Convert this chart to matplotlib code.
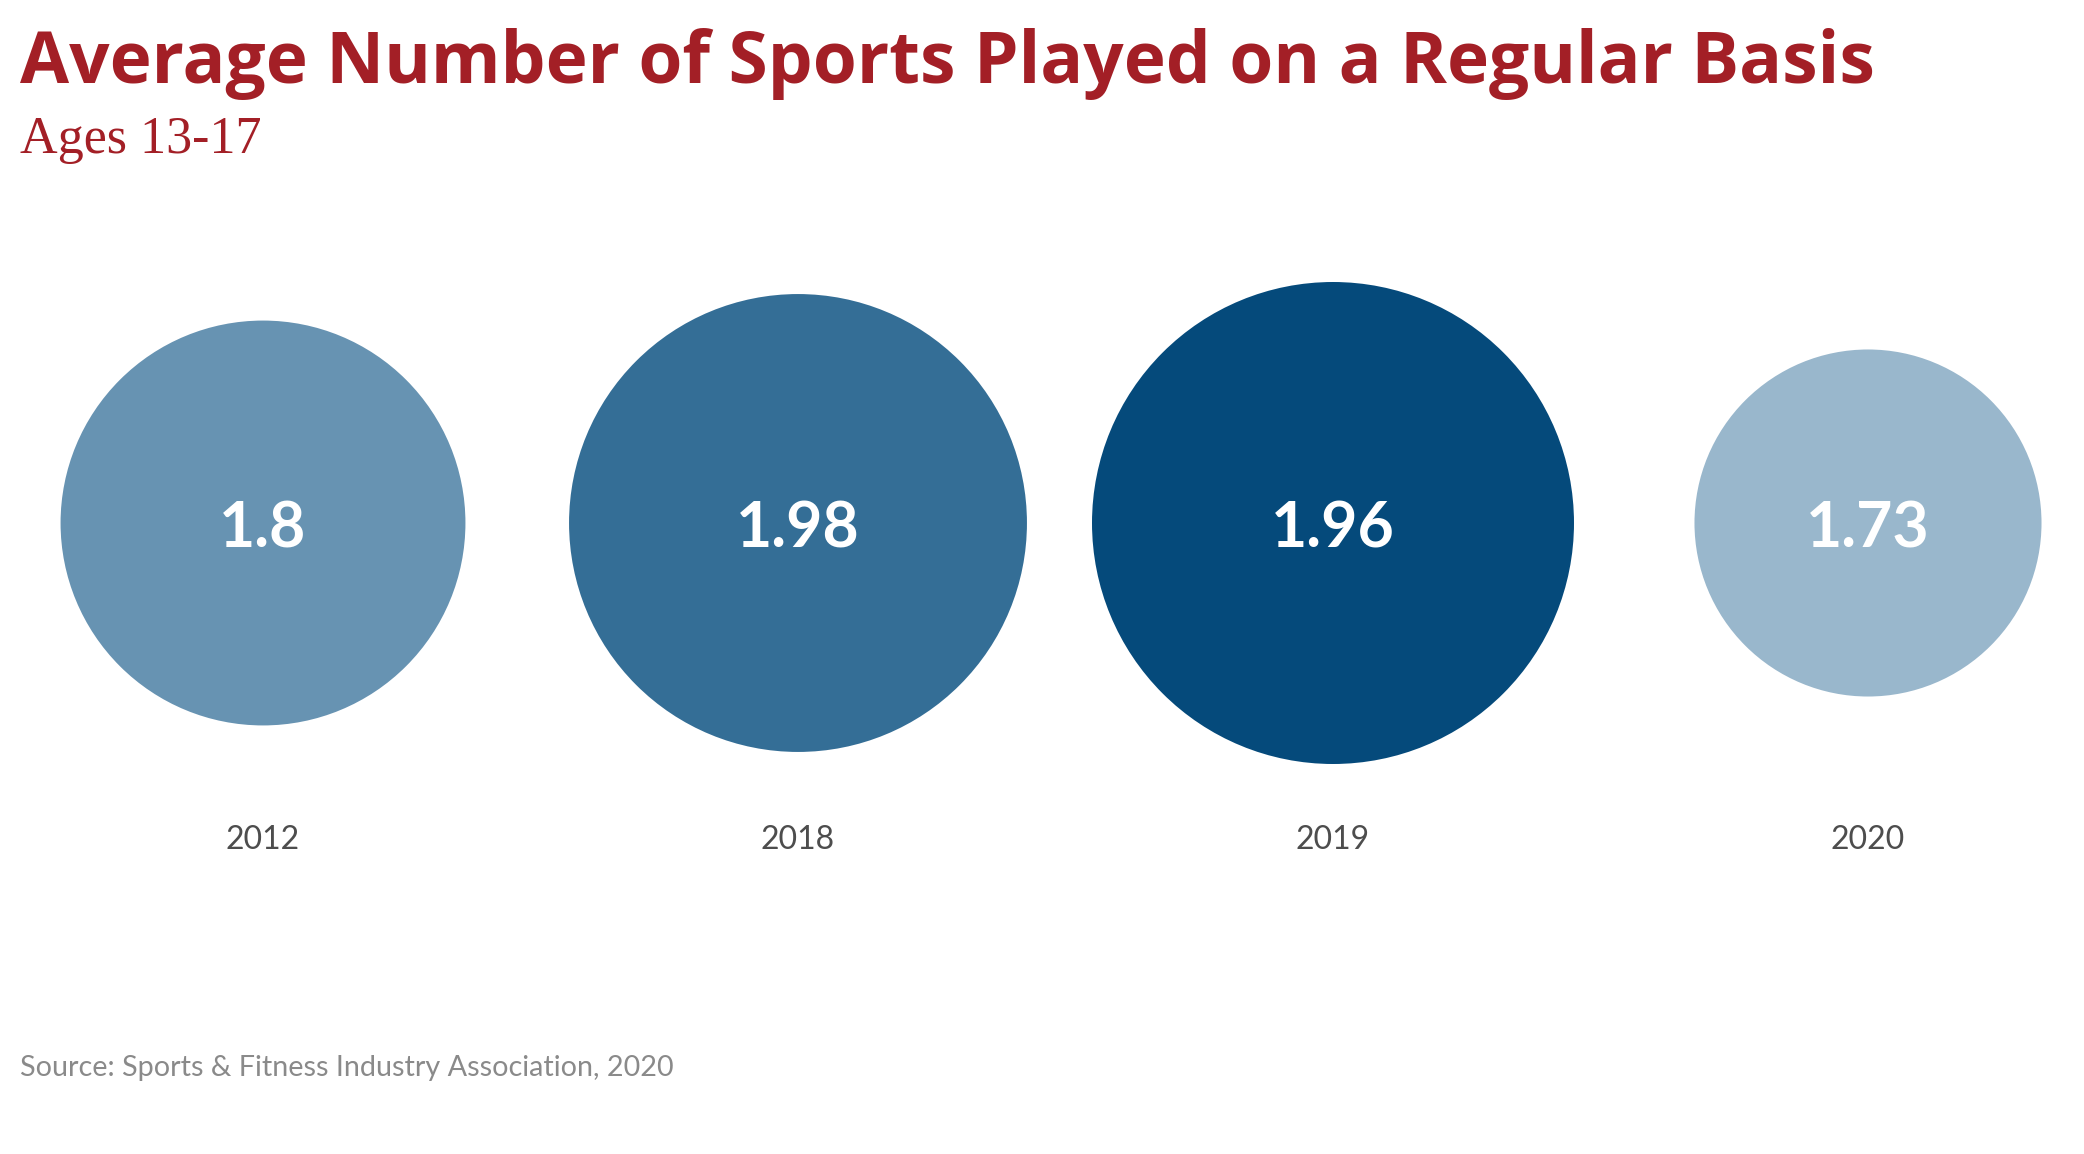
"""Average number of sports played, ages 13-17 - bubble chart"""
import matplotlib.pyplot as plt
from matplotlib.patches import Circle

# data
years = ['2012', '2018', '2019', '2020']
avg_sports = [1.8, 1.98, 1.96, 1.73]
# relative bubble diameter as drawn (largest = 1)
bubble_size = [0.84, 0.95, 1.0, 0.72]

colors = ['#6793b2', '#346e96', '#054a7b', '#99b7cc']
title_red = '#a31f26'

W, H = 2084, 1154
unit = 535.0          # pixels per category step
x0, y0 = 263.0, 523.0  # pixel position of the first bubble centre
max_r = 241.0 / unit

fig = plt.figure(figsize=(W / 100, H / 100), dpi=100)
ax = fig.add_axes([0, 0, 1, 1])
ax.set_xlim(-x0 / unit, (W - x0) / unit)
ax.set_ylim(-(H - y0) / unit, y0 / unit)
ax.axis('off')

for i, (yr, val, s) in enumerate(zip(years, avg_sports, bubble_size)):
    ax.add_patch(Circle((i, 0), s * max_r, color=colors[i], lw=0))
    # value label inside the bubble
    ax.text(i, -0.012, f'{val:g}', color='white', fontsize=45, fontweight='bold',
            family='Lato', ha='center', va='center')
    # year below
    ax.text(i, -0.592, yr, color='#4d4d4d', fontsize=23, family='Lato',
            ha='center', va='center')

# titles
fig.text(20 / W, 1 - 83 / H, 'Average Number of Sports Played on a Regular Basis',
         color=title_red, fontsize=51.2, fontweight='bold', family='Open Sans',
         ha='left', va='baseline')
fig.text(20 / W, 1 - 153 / H, 'Ages 13-17', color=title_red, fontsize=37.5,
         family='Liberation Serif', ha='left', va='baseline')
fig.text(20 / W, 1 - 1076 / H, 'Source: Sports & Fitness Industry Association, 2020',
         color='#8a8a8a', fontsize=20.7, family='Lato', ha='left', va='baseline')

plt.savefig('out.png', dpi=100)
